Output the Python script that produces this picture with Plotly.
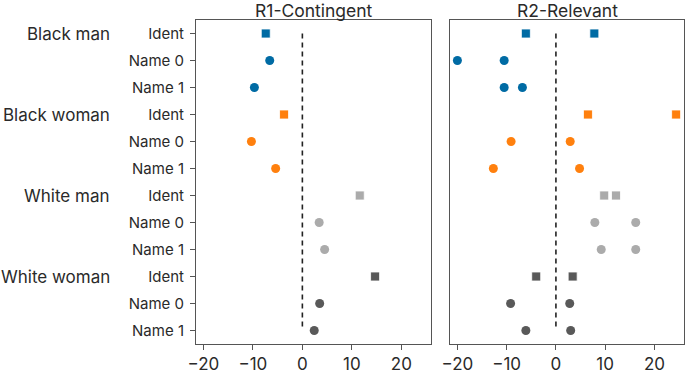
import plotly.graph_objects as go

groups = ["Black man", "Black woman", "White man", "White woman"]
row_labels = ["Ident", "Name 0", "Name 1"] * 4
colors = ["#006BA4", "#FF800E", "#ABABAB", "#595959"]
panel_titles = ["R1-Contingent", "R2-Relevant"]

# R1-Contingent: one estimate per row
r1_values = [-7.4, -6.6, -9.7,
             -3.7, -10.3, -5.4,
             11.6, 3.4, 4.5,
             14.7, 3.5, 2.4]
# R2-Relevant: two estimates per row
r2_values_a = [-6.1, -20.0, -10.5,
               6.5, -9.1, -12.7,
               9.8, 7.9, 9.2,
               -4.0, -9.2, -6.1]
r2_values_b = [7.8, -10.5, -6.8,
               24.4, 2.9, 4.8,
               12.2, 16.2, 16.2,
               3.4, 2.8, 3.0]

x_ticks = [-20, -10, 0, 10, 20]
x_range = [-21.5, 26]

FONT = "Inter, Liberation Sans, sans-serif"
TEXT = "#2a2a2a"

fig = go.Figure()

def add_points(xs, xaxis, yaxis):
    for i, v in enumerate(xs):
        g = i // 3
        is_ident = (i % 3 == 0)
        fig.add_trace(go.Scatter(
            x=[v], y=[i], mode="markers", xaxis=xaxis, yaxis=yaxis,
            marker=dict(
                color=colors[g],
                symbol="square" if is_ident else "circle",
                size=9,
                line=dict(color="rgba(255,255,255,0.8)" if is_ident else colors[g], width=1 if is_ident else 0),
            ),
            showlegend=False, hoverinfo="x+y",
        ))

add_points(r1_values, "x", "y")
add_points(r2_values_a, "x2", "y2")
add_points(r2_values_b, "x2", "y2")

n = len(row_labels)
for xr, yr in (("x", "y"), ("x2", "y2")):
    fig.add_shape(type="line", xref=xr, yref=yr, x0=0, x1=0, y0=0, y1=n - 1,
                  line=dict(color="#222", width=1.6, dash="5px,4px"), layer="below")

axis_common = dict(showline=True, mirror=True, linecolor="#555", linewidth=1,
                   showgrid=False, zeroline=False, automargin=False)

xlabels = ["\u221220", "\u221210", "0", "10", "20"]
fig.update_layout(
    width=685, height=373,
    margin=dict(l=0, r=0, t=20, b=29),
    paper_bgcolor="white", plot_bgcolor="white",
    font=dict(family=FONT, color=TEXT),
    xaxis=dict(domain=[196 / 685, 431 / 685], range=x_range, tickvals=x_ticks,
               ticktext=xlabels, ticks="outside", ticklen=5, tickcolor="#555",
               tickfont=dict(size=17, color=TEXT), anchor="y", **axis_common),
    yaxis=dict(domain=[0, 1], range=[n - 0.5, -0.5], tickvals=list(range(n)),
               ticktext=row_labels, ticks="outside", ticklen=5, tickcolor="#555",
               ticklabelstandoff=3,
               tickfont=dict(size=15, color=TEXT), anchor="x", **axis_common),
    xaxis2=dict(domain=[450 / 685, 684 / 685], range=x_range, tickvals=x_ticks,
                ticktext=xlabels, ticks="outside", ticklen=5, tickcolor="#555",
                tickfont=dict(size=17, color=TEXT), anchor="y2", **axis_common),
    yaxis2=dict(domain=[0, 1], range=[n - 0.5, -0.5], tickvals=list(range(n)),
                showticklabels=False, ticks="", anchor="x2", **axis_common),
)

annotations = []
for k, g in enumerate(groups):
    annotations.append(dict(text=g, x=112 / 685, xref="paper", y=3 * k, yref="y",
                            xanchor="right", yanchor="middle", showarrow=False,
                            font=dict(size=17, family=FONT, color=TEXT)))
for title, dom in zip(panel_titles, ([196 / 685, 431 / 685], [450 / 685, 684 / 685])):
    annotations.append(dict(text=title, x=(dom[0] + dom[1]) / 2, xref="paper",
                            y=1, yref="paper", yshift=10, xanchor="center", yanchor="middle",
                            showarrow=False, font=dict(size=17.5, family=FONT, color=TEXT)))
fig.update_layout(annotations=annotations)

fig.write_html("out.html", config={"displayModeBar": False},
               post_script="document.body.style.margin='0';document.body.style.overflow='hidden';")
